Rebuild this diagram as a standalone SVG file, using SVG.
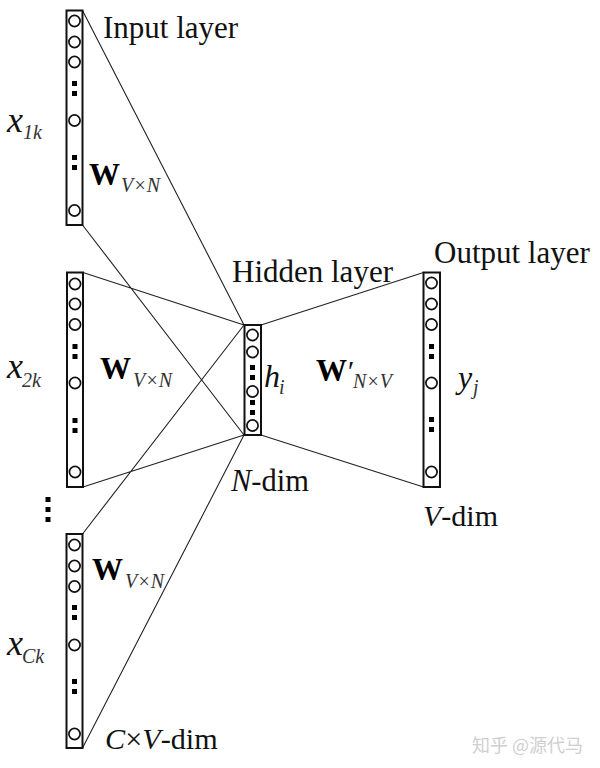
<svg xmlns="http://www.w3.org/2000/svg" width="600" height="768" viewBox="0 0 600 768">
<style>
text{font-family:"Liberation Serif","Times New Roman",serif;fill:#111}
.t{font-size:31px}
.d{font-size:30.500px}
.x{font-size:36px;font-style:italic}
.xs{font-size:20px;font-style:italic;fill:#333}
.w{font-size:31px;font-weight:bold;fill:#000}
.ws{font-size:20px;font-style:italic;font-weight:normal;fill:#333}
.b{fill:#fff;stroke:#111;stroke-width:2}
.c{fill:#fff;stroke:#111;stroke-width:1.7}
.s{fill:#000}
.l{stroke:#222;stroke-width:1.1;fill:none}
.wm{font-family:"Noto Sans CJK SC","Noto Sans",sans-serif;font-size:18px;fill:#cfcfcf}
</style>
<rect width="600" height="768" fill="#fff"/>
<g id="connectors">
<path class="l" d="M82.500 10.500L244 325M82.500 225L244 435M83 272.500L244 325M83 487L244 435M82.500 534L244 325M82.500 748L244 435M261 325L423.500 272.500M261 435L423.500 487"/>
</g>
<g id="input-1">
<rect class="b" x="66.500" y="10.500" width="16" height="214.500"/>
<circle class="c" cx="74.500" cy="21" r="5.600"/><circle class="c" cx="74.500" cy="42" r="5.600"/><circle class="c" cx="74.500" cy="62" r="5.600"/><circle class="c" cx="74.500" cy="120.500" r="5.600"/><circle class="c" cx="74.500" cy="210.500" r="5.600"/>
<rect class="s" x="72" y="81" width="5" height="5"/><rect class="s" x="72" y="91" width="5" height="5"/><rect class="s" x="72" y="155" width="5" height="5"/><rect class="s" x="72" y="165" width="5" height="5"/>
</g>
<g id="input-2">
<rect class="b" x="67" y="272.500" width="16" height="214.500"/>
<circle class="c" cx="75" cy="284" r="5.600"/><circle class="c" cx="75" cy="304" r="5.600"/><circle class="c" cx="75" cy="324.500" r="5.600"/><circle class="c" cx="75" cy="383" r="5.600"/><circle class="c" cx="75" cy="472" r="5.600"/>
<rect class="s" x="72.500" y="344" width="5" height="5"/><rect class="s" x="72.500" y="354" width="5" height="5"/><rect class="s" x="72.500" y="418" width="5" height="5"/><rect class="s" x="72.500" y="428" width="5" height="5"/>
</g>
<g id="ellipsis">
<rect class="s" x="45.500" y="497" width="5" height="5"/><rect class="s" x="45.500" y="507" width="5" height="5"/><rect class="s" x="45.500" y="517" width="5" height="5"/>
</g>
<g id="input-3">
<rect class="b" x="66.500" y="534" width="16" height="214"/>
<circle class="c" cx="74.500" cy="545" r="5.600"/><circle class="c" cx="74.500" cy="566" r="5.600"/><circle class="c" cx="74.500" cy="586.500" r="5.600"/><circle class="c" cx="74.500" cy="645" r="5.600"/><circle class="c" cx="74.500" cy="734" r="5.600"/>
<rect class="s" x="72" y="605" width="5" height="5"/><rect class="s" x="72" y="615" width="5" height="5"/><rect class="s" x="72" y="679" width="5" height="5"/><rect class="s" x="72" y="689" width="5" height="5"/>
</g>
<g id="hidden">
<rect class="b" x="244.500" y="325" width="16.500" height="110"/>
<circle class="c" cx="252.500" cy="335" r="5.600"/><circle class="c" cx="252.500" cy="352" r="5.600"/><circle class="c" cx="252.500" cy="391.500" r="5.600"/><circle class="c" cx="252.500" cy="425.500" r="5.600"/>
<rect class="s" x="250" y="365" width="5" height="5"/><rect class="s" x="250" y="375" width="5" height="5"/><rect class="s" x="250" y="400" width="5" height="5"/><rect class="s" x="250" y="410" width="5" height="5"/>
</g>
<g id="output">
<rect class="b" x="423.500" y="272.500" width="16.500" height="214.500"/>
<circle class="c" cx="431.500" cy="283" r="5.600"/><circle class="c" cx="431.500" cy="304" r="5.600"/><circle class="c" cx="431.500" cy="324.500" r="5.600"/><circle class="c" cx="431.500" cy="383" r="5.600"/><circle class="c" cx="431.500" cy="472" r="5.600"/>
<rect class="s" x="429" y="344" width="5" height="5"/><rect class="s" x="429" y="354" width="5" height="5"/><rect class="s" x="429" y="417" width="5" height="5"/><rect class="s" x="429" y="427" width="5" height="5"/>
</g>
<g id="labels">
<text class="t" x="103" y="38">Input layer</text>
<text class="t" x="232" y="282">Hidden layer</text>
<text class="t" x="434" y="263">Output layer</text>
<text class="d" x="231" y="491"><tspan font-style="italic">N</tspan>-dim</text>
<text class="d" x="423" y="526" style="font-size:30px"><tspan font-style="italic">V</tspan>-dim</text>
<text class="d" x="105" y="749" style="font-size:30.200px"><tspan font-style="italic">C</tspan>×<tspan font-style="italic">V</tspan>-dim</text>
<text class="x" x="7" y="132">x</text><text class="xs" x="23" y="139">1k</text>
<text class="x" x="7" y="378">x</text><text class="xs" x="22" y="387">2k</text>
<text class="x" x="7" y="655">x</text><text class="xs" x="22" y="663">Ck</text>
<text class="x" x="264" y="387" style="font-size:32px">h</text><text class="xs" x="279" y="394">i</text>
<text class="x" x="458" y="388" style="font-size:32px">y</text><text class="xs" x="473" y="394">j</text>
<text class="w" x="89" y="185">W</text><text class="ws" x="121" y="192">V×N</text>
<text class="w" x="100" y="379">W</text><text class="ws" x="133" y="387">V×N</text>
<text class="w" x="92" y="580">W</text><text class="ws" x="125" y="588">V×N</text>
<text class="w" x="316" y="381">W</text><text class="x" x="346" y="381" style="font-size:30px">′</text><text class="ws" x="353" y="388">N×V</text>
<text class="wm" x="472" y="752">知乎 @源代马</text>
</g>
</svg>
